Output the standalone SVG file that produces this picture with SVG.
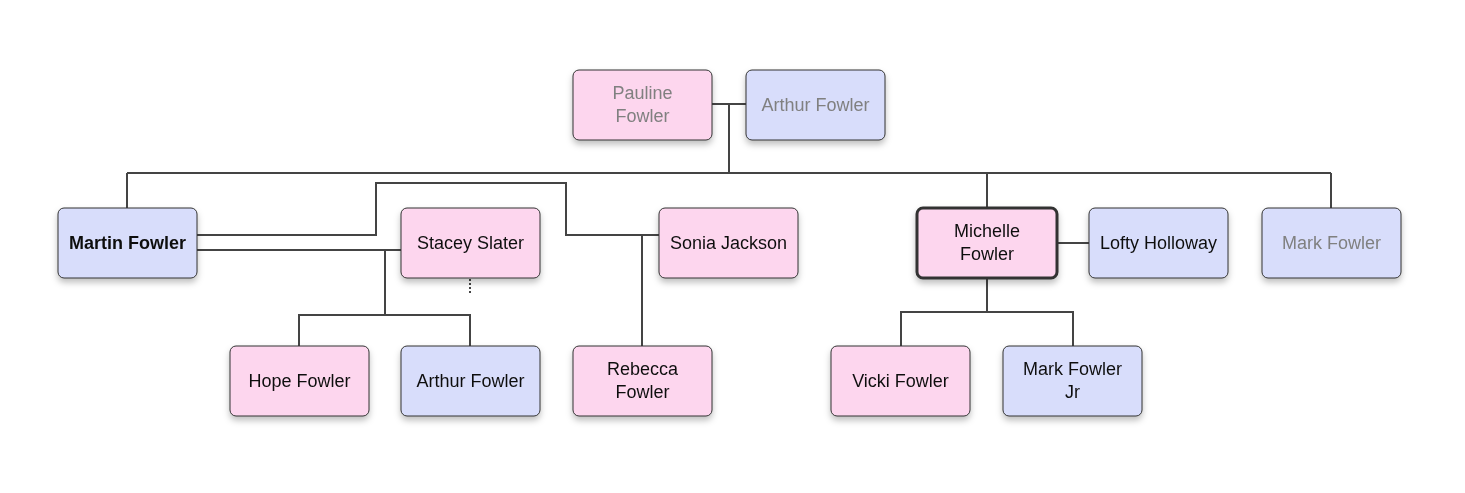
<svg xmlns="http://www.w3.org/2000/svg" width="1465" height="493" viewBox="0 0 1465 493">
<style>
.n rect{stroke:#333;stroke-width:1;}
.f rect{fill:#fdd6ee}.m rect{fill:#d8ddfb}
text{font-family:"Liberation Sans",Arial,sans-serif;font-size:18px;fill:#111;text-anchor:middle}
.g text{fill:#808080}
.c path{fill:none;stroke:#444;stroke-width:2}
</style>
<defs><filter id="sh" x="-20%" y="-20%" width="140%" height="150%"><feDropShadow dx="0" dy="4" stdDeviation="3" flood-color="#000" flood-opacity="0.25"/></filter></defs>
<rect width="1465" height="493" fill="#fff"/>
<g class="c">
<path d="M712 104H746" stroke-width="5"/>
<path d="M729 104V173M127 173H1331M127 173V208M987 173V208M1331 173V208"/>
<path d="M197 235H376V183H566V235H659M642 235V346"/>
<path d="M197 250H401M385 250V315H299V346"/>
<path d="M385 315H470V346" stroke="#aaa"/>
<path d="M470 279V293" stroke-width="1" stroke-dasharray="2,2"/>
<path d="M1057 243H1089M987 278V312H901V346M987 312H1073V346"/>
</g>
<g id="pauline" class="n f g" filter="url(#sh)"><rect x="573" y="70" width="139" height="70" rx="6"/><text x="642.5" y="99">Pauline</text><text x="642.5" y="122">Fowler</text></g>
<g id="arthur" class="n m g" filter="url(#sh)"><rect x="746" y="70" width="139" height="70" rx="6"/><text x="815.5" y="111">Arthur Fowler</text></g>
<g id="martin" class="n m" filter="url(#sh)"><rect x="58" y="208" width="139" height="70" rx="6"/><text x="127.5" y="249" font-weight="bold">Martin Fowler</text></g>
<g id="stacey" class="n f" filter="url(#sh)"><rect x="401" y="208" width="139" height="70" rx="6"/><text x="470.5" y="249">Stacey Slater</text></g>
<g id="sonia" class="n f" filter="url(#sh)"><rect x="659" y="208" width="139" height="70" rx="6"/><text x="728.5" y="249">Sonia Jackson</text></g>
<g id="michelle" class="n f" filter="url(#sh)"><rect x="917" y="208" width="140" height="70" rx="6" stroke-width="3" style="stroke-width:3"/><text x="987" y="237">Michelle</text><text x="987" y="260">Fowler</text></g>
<g id="lofty" class="n m" filter="url(#sh)"><rect x="1089" y="208" width="139" height="70" rx="6"/><text x="1158.5" y="249">Lofty Holloway</text></g>
<g id="mark" class="n m g" filter="url(#sh)"><rect x="1262" y="208" width="139" height="70" rx="6"/><text x="1331.5" y="249">Mark Fowler</text></g>
<g id="hope" class="n f" filter="url(#sh)"><rect x="230" y="346" width="139" height="70" rx="6"/><text x="299.5" y="387">Hope Fowler</text></g>
<g id="arthur2" class="n m" filter="url(#sh)"><rect x="401" y="346" width="139" height="70" rx="6"/><text x="470.5" y="387">Arthur Fowler</text></g>
<g id="rebecca" class="n f" filter="url(#sh)"><rect x="573" y="346" width="139" height="70" rx="6"/><text x="642.5" y="375">Rebecca</text><text x="642.5" y="398">Fowler</text></g>
<g id="vicki" class="n f" filter="url(#sh)"><rect x="831" y="346" width="139" height="70" rx="6"/><text x="900.5" y="387">Vicki Fowler</text></g>
<g id="markjr" class="n m" filter="url(#sh)"><rect x="1003" y="346" width="139" height="70" rx="6"/><text x="1072.5" y="375">Mark Fowler</text><text x="1072.5" y="398">Jr</text></g>
</svg>
